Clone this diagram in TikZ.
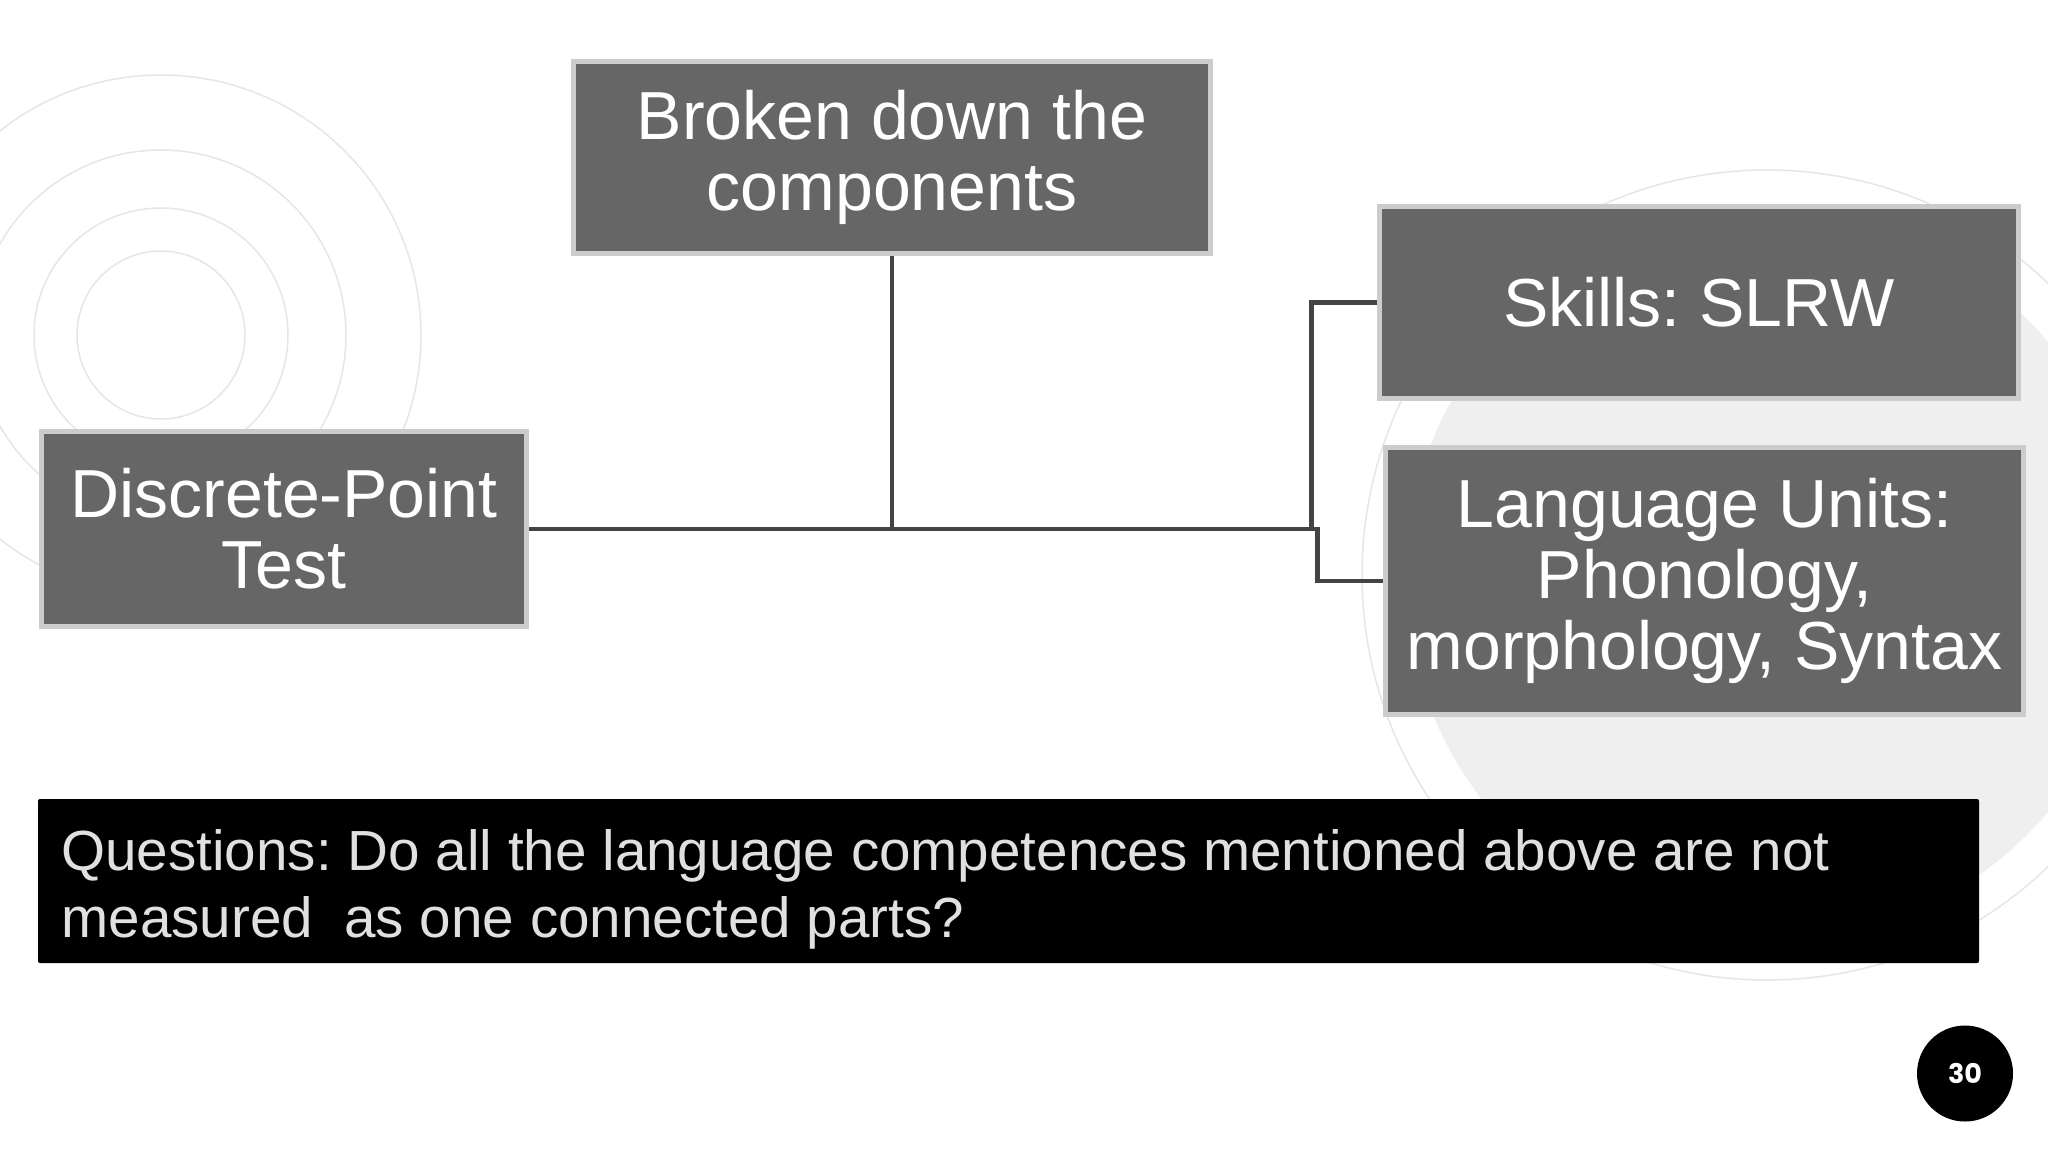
\documentclass[tikz,border=0pt]{standalone}
\usepackage{fontspec}
\setmainfont{Liberation Sans}
\newfontfamily\pnfont{Poppins}
\usetikzlibrary{calc}
\pgfdeclarelayer{back}
\pgfdeclarelayer{mid}
\pgfsetlayers{back,mid,main}
\definecolor{boxfill}{HTML}{666666}
\definecolor{boxborder}{HTML}{CCCCCC}
\definecolor{connc}{HTML}{444444}
\definecolor{ringc}{HTML}{E6E6E6}
\definecolor{discfill}{HTML}{EFEFEF}
\definecolor{qtextc}{HTML}{E0E0E0}
\tikzset{
  box/.style={draw=boxborder, line width=2.5pt, fill=boxfill, text=white,
    font=\frenchspacing\fontsize{34}{35.5}\selectfont, align=center, inner sep=0pt},
  conn/.style={draw=connc, line width=2.4pt},
  ring/.style={draw=ringc, line width=0.75pt},
}
\begin{document}
\frenchspacing
\begin{tikzpicture}[x=0.5pt, y=-0.5pt]
\useasboundingbox (0,0) rectangle (2048,1152);

% background decoration
\begin{pgfonlayer}{back}
  \fill[white] (0,0) rectangle (2048,1152);
  \fill[discfill] (1770,577) circle[radius=182pt];
  \draw[ring] (1767,575) circle[radius=202.5pt];
  \draw[ring] (161,335) circle[radius=42pt];
  \draw[ring] (161,335) circle[radius=63.5pt];
  \draw[ring] (161,335) circle[radius=92.5pt];
  \draw[ring] (161,335) circle[radius=130pt];
\end{pgfonlayer}

% boxes
\node[box, minimum width=318.5pt, minimum height=96pt] (broken) at (892,157.5) {Broken down the\\components};
\node[box, minimum width=242.5pt, minimum height=97.5pt] (disc) at (284,529) {Discrete-Point\\Test};
\node[box, minimum width=319.5pt, minimum height=96pt] (skills) at (1699,302.5) {Skills: SLRW};
\node[box, minimum width=319pt, minimum height=133.5pt] (lang) at (1704.5,581) {Language Units:\\Phonology,\\morphology, Syntax};

% connectors
\begin{pgfonlayer}{mid}
  \draw[conn] (disc.east) -| (broken.south);
  \draw[conn] (disc.east) -| ([xshift=-32.75pt]skills.west) -- (skills.west);
  \draw[conn] (disc.east) -| ([xshift=-32.75pt]lang.west) -- (lang.west);
\end{pgfonlayer}

% question box
\node[fill=black, rounded corners=1pt, minimum width=970.5pt, minimum height=82pt, inner sep=0pt] (qbox) at (1008.5,881) {};
\node[anchor=north west, inner sep=0pt, align=left, text=qtextc, font=\fontsize{28.3}{33.5}\selectfont] (qtext) at (61,829)
  {Questions: Do all the language competences mentioned above are not\\measured\ \ as one connected parts?};

% page number
\node[circle, fill=black, minimum size=48pt, inner sep=0pt, text=white, font=\pnfont\bfseries\fontsize{13.5}{15}\selectfont] (pnum) at (1965,1073.5) {30};
\end{tikzpicture}
\end{document}
